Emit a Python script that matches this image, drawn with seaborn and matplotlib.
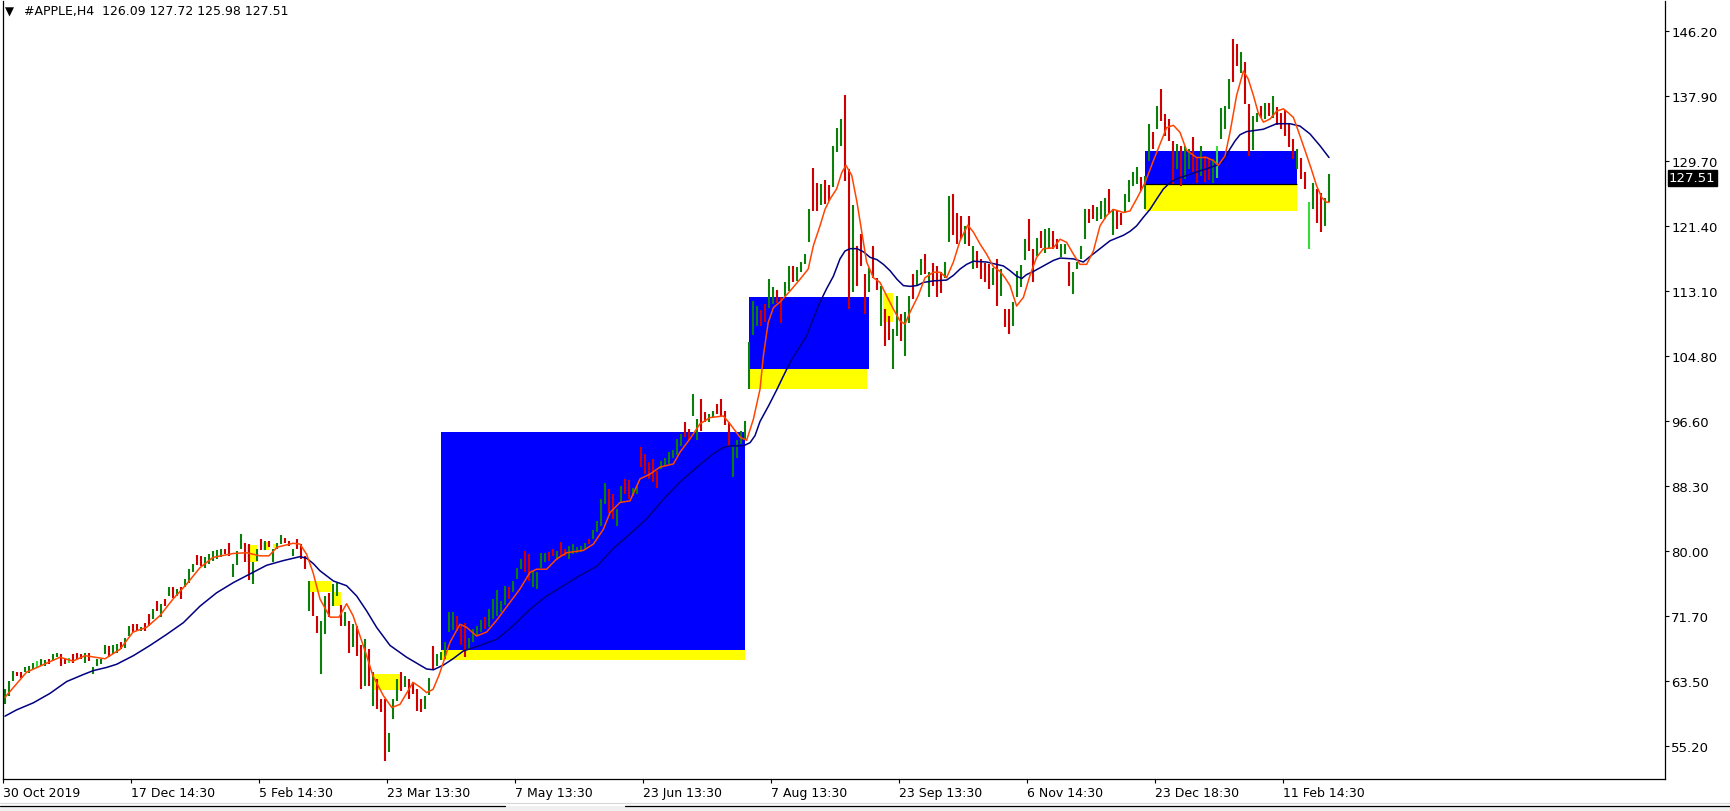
import matplotlib
matplotlib.use("Agg")
import matplotlib.pyplot as plt
from matplotlib.patches import Rectangle
from matplotlib.lines import Line2D
from matplotlib.transforms import blended_transform_factory
import seaborn as sns

# ---------------- data ----------------
title = "#APPLE,H4  126.09 127.72 125.98 127.51"
last_price = 127.51

lows = [
    60.5, 61.6, 63.5, 64.1, 63.9, 64.6, 64.5, 65.0, 65.2, 65.4,
    65.4, 65.6, 66.0, 66.5, 65.4, 65.6, 65.8, 65.8, 66.3, 66.3,
    65.8, 66.0, 64.4, 65.4, 65.6, 66.9, 66.5, 66.9, 67.1, 67.5,
    67.7, 69.2, 69.7, 69.9, 69.9, 69.9, 70.5, 71.4, 72.4, 71.6,
    73.0, 74.3, 74.1, 74.3, 73.9, 75.4, 76.0, 77.3, 78.3, 78.1,
    77.9, 78.4, 78.8, 79.0, 79.2, 79.6, 79.4, 76.7, 78.2, 80.3,
    78.6, 76.3, 75.8, 78.8, 80.1, 80.1, 80.5, 78.6, 80.3, 80.9,
    81.1, 80.7, 79.4, 80.3, 79.0, 77.7, 72.4, 71.8, 69.6, 64.4,
    69.4, 71.6, 73.0, 74.3, 70.5, 70.5, 67.1, 67.8, 66.7, 62.4,
    62.9, 62.9, 60.3, 59.9, 59.5, 53.3, 54.4, 58.6, 60.9, 62.2,
    62.7, 61.2, 61.8, 59.7, 59.5, 59.9, 61.7, 65.0, 65.4, 66.2,
    66.3, 69.7, 70.0, 69.8, 68.0, 66.5, 67.5, 68.4, 69.2, 69.7,
    70.1, 70.3, 71.4, 71.8, 72.2, 73.1, 73.9, 74.8, 76.5, 77.7,
    77.3, 76.2, 75.4, 75.2, 77.9, 78.6, 78.8, 79.4, 78.9, 79.4,
    79.4, 79.0, 79.6, 79.8, 79.9, 80.3, 80.9, 81.5, 82.4, 83.2,
    86.0, 84.9, 84.1, 83.2, 86.2, 87.3, 86.6, 87.0, 87.3, 90.7,
    89.8, 89.2, 88.8, 88.1, 90.5, 90.9, 91.1, 91.9, 92.2, 93.4,
    94.5, 94.1, 97.2, 94.1, 95.3, 96.4, 96.4, 97.0, 97.5, 97.2,
    96.1, 93.2, 89.4, 91.9, 93.6, 94.1, 100.6, 107.5, 108.7, 108.6,
    109.2, 111.0, 111.5, 111.6, 109.1, 112.5, 113.1, 114.2, 114.4, 115.5,
    116.6, 119.3, 123.3, 123.3, 124.0, 124.2, 124.6, 126.3, 130.8, 131.6,
    127.1, 110.8, 113.0, 113.8, 116.3, 110.2, 113.0, 114.8, 113.2, 108.7,
    106.1, 106.9, 103.2, 107.4, 106.8, 104.9, 109.1, 112.1, 113.7, 115.1,
    115.3, 112.3, 113.8, 112.3, 112.8, 114.8, 119.3, 120.2, 119.1, 119.7,
    119.1, 118.9, 115.9, 116.0, 114.6, 114.2, 113.4, 113.9, 111.2, 112.5,
    108.5, 107.6, 108.7, 112.3, 113.6, 117.0, 118.2, 114.2, 117.6, 118.6,
    118.0, 118.5, 118.5, 118.5, 117.4, 117.8, 113.8, 112.7, 115.9, 117.2,
    119.7, 121.8, 122.3, 122.0, 122.3, 122.3, 123.1, 120.2, 121.0, 121.5,
    123.0, 124.4, 126.5, 126.7, 125.9, 123.5, 129.7, 131.2, 133.7, 134.8,
    132.9, 132.2, 126.7, 128.6, 126.5, 127.4, 128.6, 128.2, 126.9, 127.8,
    127.0, 127.3, 126.9, 127.5, 132.5, 133.7, 136.3, 139.7, 141.8, 140.9,
    136.9, 130.3, 131.0, 134.6, 135.1, 135.0, 135.4, 135.1, 134.2, 133.7,
    132.9, 131.5, 129.9, 128.6, 127.4, 126.1, 118.4, 123.5, 121.8, 120.6,
    121.4, 124.4,
]

highs = [
    62.4, 63.5, 64.8, 64.6, 64.6, 65.2, 65.4, 65.8, 66.0, 66.3,
    66.2, 66.3, 66.9, 67.1, 66.9, 66.3, 66.4, 66.9, 67.0, 66.9,
    67.1, 67.1, 65.2, 66.3, 66.3, 68.0, 67.9, 68.0, 68.2, 68.4,
    69.0, 70.5, 70.7, 70.7, 70.4, 70.9, 72.0, 72.6, 73.7, 73.3,
    73.9, 75.4, 75.4, 75.2, 75.4, 76.4, 77.7, 78.4, 79.5, 79.4,
    79.2, 79.6, 80.0, 80.2, 80.3, 80.3, 81.1, 78.4, 80.0, 82.2,
    81.0, 80.9, 78.6, 80.3, 81.5, 81.3, 81.3, 80.3, 81.0, 82.0,
    81.7, 81.3, 80.3, 81.5, 80.9, 79.4, 76.2, 74.8, 71.8, 71.1,
    74.3, 74.7, 75.8, 76.0, 73.1, 72.2, 71.1, 70.7, 70.5, 68.0,
    68.8, 67.5, 64.6, 63.7, 61.2, 61.2, 56.9, 61.2, 63.7, 64.6,
    64.1, 63.7, 63.3, 62.4, 61.2, 61.6, 63.8, 67.9, 66.9, 67.2,
    68.4, 72.2, 72.2, 71.8, 70.5, 70.9, 69.0, 70.1, 70.5, 71.3,
    71.6, 72.6, 73.9, 75.0, 73.7, 75.6, 75.4, 76.2, 77.9, 79.0,
    80.0, 79.6, 77.5, 77.3, 79.8, 79.8, 79.9, 80.3, 80.0, 81.2,
    80.3, 80.7, 80.9, 80.5, 80.7, 81.1, 81.5, 82.7, 83.9, 86.6,
    88.7, 87.9, 87.3, 85.4, 88.3, 89.2, 89.0, 88.0, 88.3, 93.2,
    92.4, 91.3, 91.7, 90.2, 91.5, 91.9, 92.6, 92.9, 94.3, 94.9,
    96.4, 95.5, 100.0, 96.8, 99.4, 97.7, 97.4, 97.8, 98.7, 99.4,
    97.9, 96.4, 93.2, 94.1, 95.3, 96.6, 106.6, 111.9, 111.2, 110.7,
    111.5, 114.6, 113.6, 113.2, 112.3, 114.3, 116.3, 116.3, 116.2, 116.8,
    117.8, 123.5, 128.8, 126.9, 126.7, 127.3, 126.6, 131.6, 133.9, 135.0,
    138.0, 128.6, 124.0, 118.9, 120.4, 115.3, 116.0, 118.9, 114.8, 113.8,
    110.8, 109.9, 108.3, 112.5, 110.2, 110.4, 112.5, 115.3, 115.8, 117.2,
    117.8, 115.5, 116.7, 116.3, 115.5, 116.8, 125.2, 125.5, 123.1, 122.7,
    121.4, 122.7, 118.9, 118.2, 117.2, 116.7, 116.5, 116.0, 117.2, 115.9,
    110.8, 110.8, 111.7, 115.7, 116.4, 119.7, 122.3, 118.5, 119.9, 120.8,
    121.0, 121.1, 120.8, 119.7, 119.1, 119.1, 116.8, 115.5, 116.8, 118.9,
    123.5, 123.5, 124.0, 123.8, 124.6, 125.0, 126.1, 123.5, 123.3, 123.0,
    125.5, 127.2, 128.2, 128.9, 127.6, 127.8, 134.4, 133.3, 136.7, 138.8,
    135.6, 135.0, 132.2, 131.8, 131.6, 131.6, 131.2, 132.7, 130.1, 131.6,
    130.3, 130.0, 129.9, 131.6, 136.4, 136.7, 140.1, 145.2, 144.5, 143.5,
    142.2, 136.9, 135.4, 135.8, 136.6, 137.0, 137.1, 137.9, 136.5, 135.8,
    136.1, 134.5, 132.4, 131.2, 130.1, 128.2, 124.4, 126.9, 126.1, 125.6,
    125.0, 128.0,
]

# g = up bar, r = down bar, l = lime bar
bar_colors = (
    "gggrrggglg" "grggrrlrrr" "grggggrggr" "ggrrgrrgrg" "rgrgrgggrr"
    "gggggrrggg" "rrggrgrggg" "rrgrrrgrrg" "grggrgrgrr" "grgrrrgggr"
    "grrrrggrgg" "gggrrrgggg" "rgggggrggg" "rrggggrrgr" "rgggggrggg"
    "grrggrrggr" "rrrrgggggg" "rrggrrggrr" "rrgggggggr" "rggrrggrgg"
    "ggrrgrrggg" "rrgrrrgrrg" "rrggrggrgg" "rgrrrggrrr" "grgrrrrgrg"
    "rrggggrrgr" "ggrrggrggg" "grrgggrgrr" "ggggrggrgr" "rrrgrggrrg"
    "rrglgggrrg" "rrggrgrgrr" "rrrgrrlgrr" "gg"
)

# fast moving average (orange red)
orange_x = [
    0, 5.4, 13.75, 17, 20, 25, 28.75, 32, 35.4, 38.75,
    42, 45.4, 48.75, 52, 57, 60.4, 63.75, 66, 68, 72,
    73.75, 75.4, 77, 78.75, 81.25, 83.5, 85.4, 87, 88.75, 90.4,
    92, 94.6, 96.7, 98.75, 102, 103.75, 105.4, 107, 108.5, 111.25,
    113.75, 115.4, 117.9, 120.4, 122.9, 126.25, 128.75, 131.25, 132.9, 135.4,
    137.9, 140.4, 144.6, 147.1, 149.6, 151.25, 153.75, 156.25, 158.75, 161.25,
    163.75, 167.1, 168.75, 171.25, 173.75, 176.25, 179.6, 181.25, 183.75, 185.4,
    187.1, 188.75, 189.6, 190.8, 192.1, 193.75, 196.25, 198.75, 200.8, 202.1,
    203.75, 205, 206.25, 207.9, 209.2, 210.25, 211.7, 213, 214.2, 215.4,
    217.1, 218.75, 220.4, 222.1, 223.75, 225, 226.25, 228.3, 230, 232.1,
    233.75, 235.4, 237.1, 238.75, 240.7, 242.1, 243.75, 245.4, 247.1, 248.75,
    250, 251.25, 252.9, 254.6, 256.25, 257.9, 259.6, 262.1, 263.75, 265.4,
    267.1, 268.75, 270.4, 272.1, 273.75, 275.4, 277.1, 279.6, 281.25, 283.3,
    285, 287.1, 288.75, 290.4, 292.1, 293.75, 295.4, 297.9, 300.4, 302.1,
    303.3, 305, 306.25, 307.9, 309.6, 310.8, 312.1, 313.3, 314.6, 316.25,
    317.9, 319.6, 320.8, 322.1, 323.3, 325, 326.6, 327.9, 329.2, 330.4,
    331,
]
orange_y = [
    61.4, 64.6, 66.5, 66.0, 66.7, 66.3, 67.5, 69.7, 70.3, 71.8,
    73.9, 75.8, 77.9, 79.2, 79.7, 79.8, 79.4, 79.4, 80.5, 81.0,
    80.9, 79.6, 77.3, 73.9, 71.6, 71.6, 73.3, 71.8, 69.2, 66.7,
    64.1, 61.6, 60.1, 60.5, 63.3, 62.7, 62.0, 62.4, 64.2, 68.4,
    70.7, 70.3, 69.2, 69.7, 71.2, 73.5, 75.2, 77.3, 77.7, 77.7,
    79.0, 79.8, 80.1, 80.9, 82.8, 84.9, 86.2, 86.4, 89.2, 89.8,
    90.7, 91.1, 92.6, 94.3, 96.2, 97.0, 97.2, 96.2, 94.5, 94.1,
    96.8, 100.6, 104.9, 109.1, 111.0, 111.7, 113.1, 114.6, 115.9, 118.9,
    121.4, 123.5, 124.8, 126.1, 128.2, 129.1, 127.8, 124.4, 120.6, 116.8,
    114.8, 114.2, 112.5, 110.8, 109.3, 108.9, 110.4, 112.5, 114.8, 115.5,
    115.5, 114.8, 116.8, 119.5, 121.5, 120.6, 119.1, 117.8, 116.2, 115.6,
    114.8, 113.8, 111.2, 112.3, 115.1, 117.4, 118.5, 118.6, 119.7, 119.3,
    117.8, 116.5, 116.5, 118.2, 121.4, 122.7, 123.5, 123.1, 123.3, 125.2,
    126.9, 129.7, 131.8, 133.9, 134.2, 133.3, 131.0, 130.1, 130.1, 129.7,
    129.1, 130.3, 133.3, 138.0, 141.1, 140.1, 138.0, 135.8, 134.6, 135.0,
    136.0, 136.3, 135.8, 135.2, 133.5, 131.0, 128.6, 126.5, 125.0, 124.4,
    124.4,
]

# slow moving average (navy)
navy_x = [
    0, 2.9, 7.1, 11.25, 15.4, 19.6, 22.1, 25.4, 27.9, 32.1,
    36.25, 40.4, 44.6, 48.75, 52.9, 57.1, 61.25, 65.4, 69.6, 73.75,
    75.4, 77.1, 78.75, 82.1, 85.4, 87.9, 90.4, 92.9, 96.25, 100.4,
    105.4, 107.1, 109.6, 112, 114.6, 118.75, 123, 127, 131.25, 135.4,
    139.6, 143.75, 148, 152, 156.25, 160.4, 164.6, 168.75, 173, 177.1,
    179.6, 181.25, 184.6, 186.25, 187.5, 188.75, 191, 193, 194.6, 196.25,
    198.3, 200.4, 202, 203.75, 205.4, 207.1, 208.75, 210, 211.25, 213,
    214.6, 216.25, 218, 219.6, 221.25, 223, 224.6, 226.25, 228, 229.6,
    232.1, 235.4, 237.1, 238.75, 240.4, 242.1, 245.4, 247.9, 249.6, 251.25,
    252.9, 254.2, 255.4, 257.1, 259.6, 262.1, 263.75, 267.1, 269.6, 271.25,
    273.75, 276.25, 279.6, 281.25, 282.9, 284.6, 286.25, 287.9, 289.6, 291.25,
    292.9, 295.4, 298.75, 302.9, 304.6, 306.25, 307.5, 308.75, 310.4, 314.6,
    317.9, 321.25, 323.75, 326.25, 328.75, 331,
]
navy_y = [
    59.0, 59.8, 60.7, 61.9, 63.4, 64.3, 64.8, 65.2, 65.6, 66.7,
    68.0, 69.4, 70.9, 73.0, 74.7, 76.0, 77.1, 78.2, 78.8, 79.3,
    79.1, 78.4, 77.5, 76.2, 75.6, 74.3, 72.4, 70.3, 68.0, 66.5,
    65.0, 64.9, 65.5, 66.3, 67.3, 68.0, 68.8, 70.5, 72.6, 74.3,
    75.6, 76.9, 78.1, 80.3, 82.2, 84.1, 86.6, 88.8, 90.7, 92.4,
    93.2, 93.4, 93.4, 93.8, 94.7, 96.5, 98.6, 100.6, 102.3, 104.0,
    105.7, 107.4, 109.5, 111.7, 113.4, 115.0, 117.2, 118.2, 118.5, 118.5,
    118.1, 117.4, 117.1, 116.5, 115.7, 114.6, 113.8, 113.7, 113.8, 114.2,
    114.4, 114.5, 115.1, 115.9, 116.5, 116.9, 116.8, 116.5, 116.3, 115.7,
    115.0, 114.7, 115.2, 115.6, 116.3, 117.0, 117.3, 117.2, 116.8, 117.5,
    118.5, 119.5, 120.2, 120.7, 121.4, 122.5, 123.5, 124.8, 126.1, 126.9,
    127.4, 127.8, 128.4, 129.1, 129.7, 131.2, 132.2, 133.0, 133.4, 133.7,
    134.4, 134.4, 134.1, 133.1, 131.6, 130.1,
]

# big zones: blue body + yellow base
zone_start = [109.0, 186.0, 285.0]
zone_end = [185.0, 216.0, 323.0]
zone_base_end = [185.0, 215.5, 323.0]
zone_top = [95.2, 112.35, 130.9]
zone_mid = [67.45, 103.2, 126.7]
zone_bottom = [66.15, 100.7, 123.3]

# small yellow zones
small_start = [60.5, 64.5, 67.0, 76.0, 82.0, 92.25, 219.5]
small_end = [63.0, 66.0, 68.0, 81.5, 84.0, 98.75, 222.0]
small_low = [78.6, 80.1, 80.4, 74.8, 73.0, 62.3, 109.2]
small_high = [80.8, 81.2, 80.9, 76.2, 74.8, 64.4, 112.9]

price_ticks = [146.2, 137.9, 129.7, 121.4, 113.1, 104.8, 96.6, 88.3, 80.0, 71.7, 63.5, 55.2]
date_labels = ["30 Oct 2019", "17 Dec 14:30", "5 Feb 14:30", "23 Mar 13:30",
               "7 May 13:30", "23 Jun 13:30", "7 Aug 13:30", "23 Sep 13:30",
               "6 Nov 14:30", "23 Dec 18:30", "11 Feb 14:30"]
date_label_bars = [0, 32, 64, 96, 128, 160, 192, 224, 256, 288, 320]

# ---------------- drawing ----------------
assert len(lows) == len(highs) == len(bar_colors)
assert len(orange_x) == len(orange_y) and len(navy_x) == len(navy_y)

sns.set_style("white")
plt.rcParams["font.family"] = ["DejaVu Sans"]

W, H = 1731, 812
fig = plt.figure(figsize=(W / 100, H / 100), dpi=100)
fig.patch.set_facecolor("white")
ax = fig.add_axes([3 / W, 32 / H, 1662 / W, 778 / H])
ax.set_facecolor("white")

BLUE = "#0000ff"
YELLOW = "#ffff00"
for x0, x1, xb, top, mid, bot in zip(zone_start, zone_end, zone_base_end,
                                      zone_top, zone_mid, zone_bottom):
    ax.add_patch(Rectangle((x0, mid), x1 - x0, top - mid, facecolor=BLUE,
                           edgecolor="none", zorder=1))
    ax.add_patch(Rectangle((x0, bot), xb - x0, mid - bot, facecolor=YELLOW,
                           edgecolor="none", zorder=1))
# separator line on the last zone
ax.hlines(zone_mid[2], zone_start[2], zone_end[2], colors="black", lw=0.9, zorder=1.5)

for x0, x1, lo, hi in zip(small_start, small_end, small_low, small_high):
    ax.add_patch(Rectangle((x0, lo), x1 - x0, hi - lo, facecolor=YELLOW,
                           edgecolor="none", zorder=1))

cmap = {"g": "#0a800a", "r": "#d00000", "l": "#33dd33"}
idx = list(range(len(lows)))
ax.vlines(idx, lows, highs, colors=[cmap[c] for c in bar_colors],
          linewidth=1.5, zorder=2)

sns.lineplot(x=navy_x, y=navy_y, ax=ax, color="#000080", linewidth=1.1,
             zorder=3, estimator=None)
sns.lineplot(x=orange_x, y=orange_y, ax=ax, color="#ff4500", linewidth=1.1,
             zorder=4, estimator=None)

ax.set_xlim(-0.5, -0.5 + 1662 / 4)
ax.set_ylim(51.0, 150.02)

# spines
for side in ["left", "bottom", "right"]:
    ax.spines[side].set_visible(True)
    ax.spines[side].set_color("black")
    ax.spines[side].set_linewidth(0.9)
ax.spines["top"].set_visible(False)

# price axis (right)
ax.yaxis.tick_right()
ax.set_yticks(price_ticks)
ax.set_yticklabels([f"{v:.2f}" for v in price_ticks])
ax.tick_params(axis="y", which="both", right=True, left=False, direction="out",
               length=3, width=0.8, pad=1.5, labelsize=9.5, colors="black")

# time axis
ax.set_xticks([b - 0.5 for b in date_label_bars])
ax.set_xticklabels(date_labels)
for lbl in ax.get_xticklabels():
    lbl.set_horizontalalignment("left")
ax.tick_params(axis="x", which="both", bottom=True, direction="out",
               length=3, width=0.8, pad=2, labelsize=9, colors="black")
ax.set_xlabel("")
ax.set_ylabel("")

# current price marker
trans = blended_transform_factory(ax.transAxes, ax.transData)
ax.text(1.0 + 4 / 1662, last_price, f"{last_price:.2f}", transform=trans,
        ha="left", va="center", fontsize=9.5, color="white", clip_on=False,
        bbox=dict(boxstyle="square,pad=0.1", facecolor="black", edgecolor="black"))

# title line
fig.text(5 / W, 1 - 12 / H, "\u25BC", fontsize=8.5, ha="left", va="center", color="black")
fig.text(24 / W, 1 - 12 / H, title, fontsize=9, ha="left", va="center", color="black")

# bottom window tabs strip
fig.add_artist(Rectangle((0, 0), 1, 5 / H, transform=fig.transFigure,
                         facecolor="#f0f0f0", edgecolor="none"))
fig.add_artist(Line2D([0, 505 / W], [5 / H, 5 / H], transform=fig.transFigure,
                      color="black", lw=0.9))
fig.add_artist(Line2D([625 / W, 1], [5 / H, 5 / H], transform=fig.transFigure,
                      color="black", lw=0.9))
fig.add_artist(Line2D([0, 1], [8 / H, 8 / H], transform=fig.transFigure,
                      color="#d8d8d8", lw=0.8))

fig.savefig("out.png", dpi=100, facecolor="white")
